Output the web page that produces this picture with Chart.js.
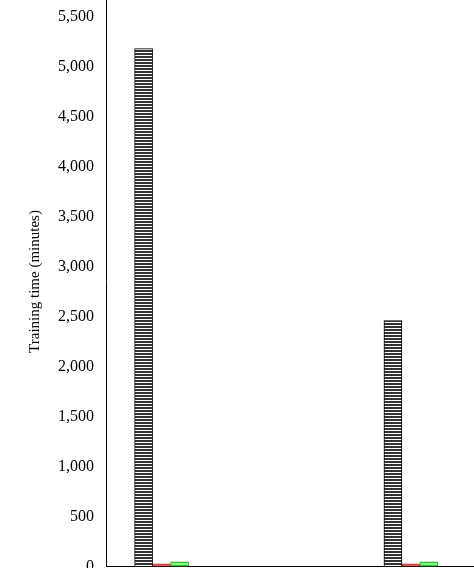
<!DOCTYPE html>
<html><head><meta charset="utf-8">
<script src="https://cdn.jsdelivr.net/npm/chart.js@4"></script>
<style>html,body{margin:0;padding:0;background:#fff;overflow:hidden}#w{width:474px;height:597px;margin-top:-17px}</style>
</head><body><div id="w"><canvas id="c"></canvas></div>
<script>
const groups = [0, 1];
const seriesA = [5180, 2460];
const seriesB = [25, 25];
const seriesC = [45, 45];
const yTicks = [0,500,1000,1500,2000,2500,3000,3500,4000,4500,5000,5500];

function pat(bg, line, period, lw){
  const p=document.createElement('canvas'); p.width=8; p.height=period;
  const g=p.getContext('2d'); g.fillStyle=bg; g.fillRect(0,0,8,period);
  g.fillStyle=line; g.fillRect(0,0,8,lw);
  return g.createPattern(p,'repeat');
}
const ctx=document.getElementById('c');
new Chart(ctx,{
  type:'bar',
  data:{datasets:[
    {data:groups.map((x,i)=>({x,y:seriesA[i]})),backgroundColor:pat('#333','#fff',3,1),borderColor:'#000',borderWidth:1},
    {data:groups.map((x,i)=>({x,y:seriesB[i]})),backgroundColor:'#e05555',borderColor:'#c03030',borderWidth:1},
    {data:groups.map((x,i)=>({x,y:seriesC[i]})),backgroundColor:pat('#8f8','#3c3',3,1),borderColor:'#2b2',borderWidth:1}
  ]},
  options:{
    responsive:true,maintainAspectRatio:false,animation:false,
    layout:{padding:{left:22,right:0,top:0,bottom:0}},
    plugins:{legend:{display:false},tooltip:{enabled:false}},
    datasets:{bar:{barThickness:18}},
    scales:{
      x:{type:'linear',min:-0.1,max:1.13,grid:{display:false},border:{color:'#000'},ticks:{display:false}},
      y:{min:0,max:5700,afterBuildTicks:s=>{s.ticks=yTicks.map(v=>({value:v}))},
        grid:{display:false},border:{color:'#000'},
        ticks:{color:'#000',font:{family:'Liberation Serif',size:16},padding:4},
        title:{display:true,text:'Training time (minutes)',color:'#000',font:{family:'Liberation Serif',size:15},padding:{bottom:10}}}
    }
  }
});
</script></body></html>
